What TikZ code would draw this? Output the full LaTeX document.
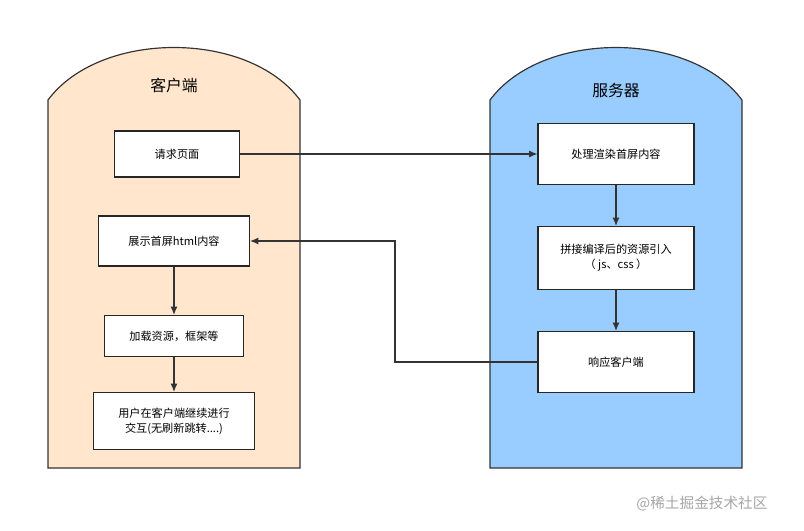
\documentclass[tikz,border=0pt]{standalone}
\usepackage{fontspec}
\setmainfont{Noto Sans CJK SC}
\usetikzlibrary{arrows.meta, positioning}
\definecolor{clientfill}{HTML}{FFE6CC}
\definecolor{serverfill}{HTML}{99CCFF}
\tikzset{%
  box/.style={rectangle, draw=black!85, fill=white, align=center, font=\fontsize{9.5}{13}\selectfont, line width=1pt},
  line/.style={draw=black!80, line width=1pt, -{Latex[length=7pt,width=6pt]}},
  lane/.style={draw=black!80, line width=1pt}}
\begin{document}
\begin{tikzpicture}[x=0.03cm, y=-0.03cm]
    \useasboundingbox (0,0) rectangle (804,531);
    % Lanes
    \draw[lane, fill=clientfill] (48,468) -- (48,100) .. controls (100,30) and (248,30) .. (300,100) -- (300,468) -- cycle;
    \draw[lane, fill=serverfill] (490,468) -- (490,100) .. controls (542,30) and (690,30) .. (742,100) -- (742,468) -- cycle;
    \node (clienttitle) at (174,85) {\fontsize{13.5}{16}\selectfont 客户端};
    \node (servertitle) at (616,90) {\fontsize{13.5}{16}\selectfont 服务器};
    % Client side
    \node (request) [box, minimum width=125*0.03cm, minimum height=46*0.03cm] at (177,154) {请求页面};
    \node (show) [box, minimum width=151*0.03cm, minimum height=50*0.03cm] at (174,241) {展示首屏html内容};
    \node (load) [box, minimum width=139*0.03cm, minimum height=41*0.03cm] at (174,336) {加载资源，框架等};
    \node (interact) [box, minimum width=161*0.03cm, minimum height=57*0.03cm] at (174,421) {用户在客户端继续进行\\交互(无刷新跳转....)};
    % Server side
    \node (render) [box, minimum width=156*0.03cm, minimum height=61*0.03cm] at (616,154) {处理渲染首屏内容};
    \node (concat) [box, minimum width=156*0.03cm, minimum height=63*0.03cm] at (616,258) {拼接编译后的资源引入\\（ js、css ）};
    \node (respond) [box, minimum width=156*0.03cm, minimum height=61*0.03cm] at (616,362) {响应客户端};
    \coordinate (bend) at (395,362);
    % Arrows
    \draw[line] (request) -- (render);
    \draw[line] (render) -- (concat);
    \draw[line] (concat) -- (respond);
    \draw[line] (respond.west) -- (bend) |- (show.east);
    \draw[line] (show) -- (load);
    \draw[line] (load) -- (interact);
    \node (mark) [text=black!35, font=\fontsize{12.5}{14}\selectfont] at (702,504) {@稀土掘金技术社区};
\end{tikzpicture}
\end{document}
